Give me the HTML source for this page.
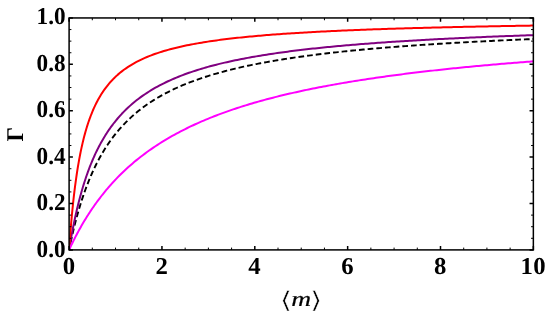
<!DOCTYPE html>
<html><head><meta charset="utf-8"><title>Gamma vs m</title>
<style>
html,body{margin:0;padding:0;background:#fff;}
svg{display:block;}
text{text-rendering:geometricPrecision;font-family:"Liberation Serif","DejaVu Serif",serif;fill:#000;}
.tk{font-weight:bold;font-size:24.3px;letter-spacing:0.5px;}
</style></head><body>
<svg width="550" height="315" viewBox="0 0 550 315">
<rect x="0" y="0" width="550" height="315" fill="#fff"/>
<clipPath id="c"><rect x="69.1" y="17.95" width="464.25" height="231.95000000000002"/></clipPath>
<g clip-path="url(#c)" fill="none" stroke-width="2" stroke-linejoin="round">
<path d="M69.10,249.90 L69.69,247.00 L70.28,244.17 L70.86,241.41 L71.45,238.72 L72.04,236.09 L72.63,233.53 L73.21,231.02 L73.80,228.57 L74.39,226.18 L74.98,223.84 L75.56,221.55 L76.15,219.31 L76.74,217.12 L77.33,214.98 L77.91,212.89 L78.50,210.83 L79.09,208.83 L79.68,206.86 L80.27,204.93 L80.85,203.04 L81.44,201.19 L82.03,199.38 L82.62,197.60 L83.20,195.85 L83.79,194.14 L84.38,192.46 L84.97,190.82 L85.55,189.20 L86.14,187.62 L86.73,186.06 L87.32,184.53 L87.91,183.03 L88.49,181.56 L89.08,180.11 L89.67,178.69 L90.26,177.29 L90.84,175.92 L91.43,174.57 L92.02,173.24 L92.61,171.93 L93.19,170.65 L93.78,169.39 L94.37,168.15 L94.96,166.93 L95.54,165.72 L96.13,164.54 L96.72,163.38 L97.31,162.23 L97.90,161.11 L98.48,160.00 L99.07,158.90 L99.66,157.83 L100.25,156.77 L100.83,155.72 L101.42,154.70 L102.01,153.68 L102.60,152.69 L103.18,151.70 L103.77,150.73 L104.36,149.78 L104.95,148.84 L105.53,147.91 L106.12,146.99 L106.71,146.09 L107.30,145.20 L107.89,144.32 L108.47,143.46 L109.06,142.60 L109.65,141.76 L110.24,140.93 L110.82,140.11 L111.41,139.30 L112.00,138.50 L112.59,137.72 L113.17,136.94 L113.76,136.17 L114.35,135.41 L114.94,134.66 L115.52,133.93 L117.62,131.36 L119.72,128.91 L121.82,126.56 L123.92,124.30 L126.02,122.14 L128.12,120.07 L130.22,118.08 L132.32,116.16 L134.42,114.31 L136.52,112.54 L138.62,110.82 L140.72,109.17 L142.82,107.58 L144.92,106.04 L147.02,104.55 L149.12,103.11 L151.22,101.72 L153.32,100.38 L155.42,99.07 L157.52,97.81 L159.62,96.58 L161.72,95.40 L163.82,94.24 L165.92,93.13 L168.02,92.04 L170.12,90.98 L172.21,89.96 L174.31,88.96 L176.41,87.99 L178.51,87.05 L180.61,86.13 L182.71,85.24 L184.81,84.36 L186.91,83.52 L189.01,82.69 L191.11,81.88 L193.21,81.09 L195.31,80.33 L197.41,79.58 L199.51,78.84 L201.61,78.13 L203.71,77.43 L205.81,76.75 L207.91,76.08 L210.01,75.43 L212.11,74.79 L214.21,74.17 L216.31,73.56 L218.41,72.97 L220.51,72.38 L222.61,71.81 L224.71,71.25 L226.81,70.70 L228.90,70.16 L231.00,69.64 L233.10,69.12 L235.20,68.62 L237.30,68.12 L239.40,67.64 L241.50,67.16 L243.60,66.69 L245.70,66.23 L247.80,65.78 L249.90,65.34 L252.00,64.91 L254.10,64.48 L256.20,64.06 L258.30,63.65 L260.40,63.25 L262.50,62.85 L264.60,62.46 L266.70,62.08 L268.80,61.70 L270.90,61.33 L273.00,60.97 L275.10,60.61 L277.20,60.26 L279.30,59.91 L281.40,59.57 L283.49,59.24 L285.59,58.91 L287.69,58.58 L289.79,58.26 L291.89,57.95 L293.99,57.64 L296.09,57.33 L298.19,57.03 L300.29,56.74 L302.39,56.45 L304.49,56.16 L306.59,55.88 L308.69,55.60 L310.79,55.32 L312.89,55.05 L314.99,54.79 L317.09,54.53 L319.19,54.27 L321.29,54.01 L323.39,53.76 L325.49,53.51 L327.59,53.27 L329.69,53.02 L331.79,52.79 L333.89,52.55 L335.99,52.32 L338.09,52.09 L340.18,51.86 L342.28,51.64 L344.38,51.42 L346.48,51.21 L348.58,50.99 L350.68,50.78 L352.78,50.57 L354.88,50.36 L356.98,50.16 L359.08,49.96 L361.18,49.76 L363.28,49.57 L365.38,49.37 L367.48,49.18 L369.58,48.99 L371.68,48.80 L373.78,48.62 L375.88,48.44 L377.98,48.26 L380.08,48.08 L382.18,47.90 L384.28,47.73 L386.38,47.56 L388.48,47.39 L390.58,47.22 L392.68,47.05 L394.77,46.89 L396.87,46.73 L398.97,46.57 L401.07,46.41 L403.17,46.25 L405.27,46.10 L407.37,45.94 L409.47,45.79 L411.57,45.64 L413.67,45.49 L415.77,45.34 L417.87,45.20 L419.97,45.05 L422.07,44.91 L424.17,44.77 L426.27,44.63 L428.37,44.49 L430.47,44.36 L432.57,44.22 L434.67,44.09 L436.77,43.95 L438.87,43.82 L440.97,43.69 L443.07,43.56 L445.17,43.44 L447.27,43.31 L449.37,43.19 L451.46,43.06 L453.56,42.94 L455.66,42.82 L457.76,42.70 L459.86,42.58 L461.96,42.46 L464.06,42.35 L466.16,42.23 L468.26,42.12 L470.36,42.00 L472.46,41.89 L474.56,41.78 L476.66,41.67 L478.76,41.56 L480.86,41.45 L482.96,41.34 L485.06,41.24 L487.16,41.13 L489.26,41.03 L491.36,40.93 L493.46,40.82 L495.56,40.72 L497.66,40.62 L499.76,40.52 L501.86,40.42 L503.96,40.32 L506.05,40.23 L508.15,40.13 L510.25,40.04 L512.35,39.94 L514.45,39.85 L516.55,39.75 L518.65,39.66 L520.75,39.57 L522.85,39.48 L524.95,39.39 L527.05,39.30 L529.15,39.21 L531.25,39.12 L533.35,39.04" stroke="#000" stroke-width="1.9" stroke-dasharray="5.7,3.0" stroke-dashoffset="1.14"/>
<path d="M69.10,249.90 L69.69,246.29 L70.28,242.78 L70.86,239.39 L71.45,236.09 L72.04,232.89 L72.63,229.79 L73.21,226.77 L73.80,223.84 L74.39,220.99 L74.98,218.21 L75.56,215.51 L76.15,212.89 L76.74,210.33 L77.33,207.84 L77.91,205.41 L78.50,203.04 L79.09,200.73 L79.68,198.48 L80.27,196.29 L80.85,194.14 L81.44,192.05 L82.03,190.01 L82.62,188.01 L83.20,186.06 L83.79,184.15 L84.38,182.29 L84.97,180.47 L85.55,178.69 L86.14,176.94 L86.73,175.24 L87.32,173.57 L87.91,171.93 L88.49,170.33 L89.08,168.77 L89.67,167.23 L90.26,165.72 L90.84,164.25 L91.43,162.80 L92.02,161.39 L92.61,160.00 L93.19,158.63 L93.78,157.30 L94.37,155.98 L94.96,154.70 L95.54,153.43 L96.13,152.19 L96.72,150.97 L97.31,149.78 L97.90,148.60 L98.48,147.45 L99.07,146.31 L99.66,145.20 L100.25,144.11 L100.83,143.03 L101.42,141.97 L102.01,140.93 L102.60,139.91 L103.18,138.90 L103.77,137.91 L104.36,136.94 L104.95,135.98 L105.53,135.04 L106.12,134.11 L106.71,133.20 L107.30,132.30 L107.89,131.41 L108.47,130.54 L109.06,129.68 L109.65,128.84 L110.24,128.00 L110.82,127.18 L111.41,126.38 L112.00,125.58 L112.59,124.80 L113.17,124.02 L113.76,123.26 L114.35,122.51 L114.94,121.77 L115.52,121.04 L117.62,118.51 L119.72,116.11 L121.82,113.81 L123.92,111.62 L126.02,109.53 L128.12,107.53 L130.22,105.62 L132.32,103.79 L134.42,102.03 L136.52,100.34 L138.62,98.72 L140.72,97.16 L142.82,95.66 L144.92,94.21 L147.02,92.82 L149.12,91.48 L151.22,90.18 L153.32,88.94 L155.42,87.73 L157.52,86.56 L159.62,85.43 L161.72,84.34 L163.82,83.28 L165.92,82.26 L168.02,81.27 L170.12,80.30 L172.21,79.37 L174.31,78.47 L176.41,77.59 L178.51,76.73 L180.61,75.90 L182.71,75.09 L184.81,74.31 L186.91,73.55 L189.01,72.80 L191.11,72.08 L193.21,71.37 L195.31,70.69 L197.41,70.02 L199.51,69.37 L201.61,68.73 L203.71,68.11 L205.81,67.50 L207.91,66.91 L210.01,66.33 L212.11,65.77 L214.21,65.22 L216.31,64.68 L218.41,64.15 L220.51,63.64 L222.61,63.14 L224.71,62.64 L226.81,62.16 L228.90,61.69 L231.00,61.23 L233.10,60.78 L235.20,60.34 L237.30,59.90 L239.40,59.48 L241.50,59.06 L243.60,58.65 L245.70,58.25 L247.80,57.86 L249.90,57.48 L252.00,57.10 L254.10,56.73 L256.20,56.37 L258.30,56.01 L260.40,55.66 L262.50,55.32 L264.60,54.98 L266.70,54.65 L268.80,54.32 L270.90,54.00 L273.00,53.69 L275.10,53.38 L277.20,53.08 L279.30,52.78 L281.40,52.49 L283.49,52.20 L285.59,51.91 L287.69,51.64 L289.79,51.36 L291.89,51.09 L293.99,50.83 L296.09,50.56 L298.19,50.31 L300.29,50.05 L302.39,49.81 L304.49,49.56 L306.59,49.32 L308.69,49.08 L310.79,48.85 L312.89,48.61 L314.99,48.39 L317.09,48.16 L319.19,47.94 L321.29,47.72 L323.39,47.51 L325.49,47.30 L327.59,47.09 L329.69,46.88 L331.79,46.68 L333.89,46.48 L335.99,46.29 L338.09,46.09 L340.18,45.90 L342.28,45.71 L344.38,45.52 L346.48,45.34 L348.58,45.16 L350.68,44.98 L352.78,44.80 L354.88,44.63 L356.98,44.45 L359.08,44.28 L361.18,44.12 L363.28,43.95 L365.38,43.79 L367.48,43.63 L369.58,43.47 L371.68,43.31 L373.78,43.15 L375.88,43.00 L377.98,42.85 L380.08,42.70 L382.18,42.55 L384.28,42.40 L386.38,42.26 L388.48,42.11 L390.58,41.97 L392.68,41.83 L394.77,41.69 L396.87,41.56 L398.97,41.42 L401.07,41.29 L403.17,41.16 L405.27,41.03 L407.37,40.90 L409.47,40.77 L411.57,40.64 L413.67,40.52 L415.77,40.39 L417.87,40.27 L419.97,40.15 L422.07,40.03 L424.17,39.91 L426.27,39.80 L428.37,39.68 L430.47,39.57 L432.57,39.45 L434.67,39.34 L436.77,39.23 L438.87,39.12 L440.97,39.01 L443.07,38.90 L445.17,38.80 L447.27,38.69 L449.37,38.59 L451.46,38.49 L453.56,38.38 L455.66,38.28 L457.76,38.18 L459.86,38.08 L461.96,37.98 L464.06,37.89 L466.16,37.79 L468.26,37.69 L470.36,37.60 L472.46,37.51 L474.56,37.41 L476.66,37.32 L478.76,37.23 L480.86,37.14 L482.96,37.05 L485.06,36.96 L487.16,36.87 L489.26,36.79 L491.36,36.70 L493.46,36.62 L495.56,36.53 L497.66,36.45 L499.76,36.37 L501.86,36.28 L503.96,36.20 L506.05,36.12 L508.15,36.04 L510.25,35.96 L512.35,35.88 L514.45,35.80 L516.55,35.73 L518.65,35.65 L520.75,35.57 L522.85,35.50 L524.95,35.42 L527.05,35.35 L529.15,35.28 L531.25,35.20 L533.35,35.13" stroke="#800080"/>
<path d="M69.10,249.90 L69.69,241.57 L70.28,233.83 L70.86,226.60 L71.45,219.84 L72.04,213.50 L72.63,207.55 L73.21,201.95 L73.80,196.67 L74.39,191.69 L74.98,186.97 L75.56,182.51 L76.15,178.27 L76.74,174.25 L77.33,170.43 L77.91,166.78 L78.50,163.31 L79.09,160.00 L79.68,156.83 L80.27,153.80 L80.85,150.90 L81.44,148.13 L82.03,145.46 L82.62,142.90 L83.20,140.45 L83.79,138.08 L84.38,135.81 L84.97,133.62 L85.55,131.52 L86.14,129.48 L86.73,127.52 L87.32,125.63 L87.91,123.80 L88.49,122.03 L89.08,120.32 L89.67,118.66 L90.26,117.06 L90.84,115.51 L91.43,114.01 L92.02,112.55 L92.61,111.13 L93.19,109.76 L93.78,108.43 L94.37,107.13 L94.96,105.87 L95.54,104.65 L96.13,103.46 L96.72,102.30 L97.31,101.17 L97.90,100.08 L98.48,99.01 L99.07,97.97 L99.66,96.95 L100.25,95.96 L100.83,95.00 L101.42,94.06 L102.01,93.14 L102.60,92.24 L103.18,91.37 L103.77,90.51 L104.36,89.68 L104.95,88.86 L105.53,88.06 L106.12,87.28 L106.71,86.52 L107.30,85.77 L107.89,85.04 L108.47,84.33 L109.06,83.63 L109.65,82.94 L110.24,82.27 L110.82,81.61 L111.41,80.97 L112.00,80.34 L112.59,79.72 L113.17,79.11 L113.76,78.52 L114.35,77.94 L114.94,77.36 L115.52,76.80 L117.62,74.88 L119.72,73.08 L121.82,71.39 L123.92,69.80 L126.02,68.31 L128.12,66.89 L130.22,65.56 L132.32,64.29 L134.42,63.09 L136.52,61.95 L138.62,60.87 L140.72,59.84 L142.82,58.86 L144.92,57.92 L147.02,57.02 L149.12,56.17 L151.22,55.35 L153.32,54.56 L155.42,53.81 L157.52,53.09 L159.62,52.39 L161.72,51.72 L163.82,51.08 L165.92,50.47 L168.02,49.87 L170.12,49.30 L172.21,48.74 L174.31,48.21 L176.41,47.69 L178.51,47.19 L180.61,46.71 L182.71,46.24 L184.81,45.79 L186.91,45.35 L189.01,44.93 L191.11,44.52 L193.21,44.12 L195.31,43.73 L197.41,43.36 L199.51,42.99 L201.61,42.64 L203.71,42.29 L205.81,41.96 L207.91,41.63 L210.01,41.32 L212.11,41.01 L214.21,40.71 L216.31,40.41 L218.41,40.13 L220.51,39.85 L222.61,39.58 L224.71,39.31 L226.81,39.05 L228.90,38.80 L231.00,38.55 L233.10,38.31 L235.20,38.08 L237.30,37.85 L239.40,37.62 L241.50,37.41 L243.60,37.19 L245.70,36.98 L247.80,36.78 L249.90,36.57 L252.00,36.38 L254.10,36.18 L256.20,36.00 L258.30,35.81 L260.40,35.63 L262.50,35.45 L264.60,35.28 L266.70,35.11 L268.80,34.94 L270.90,34.78 L273.00,34.62 L275.10,34.46 L277.20,34.30 L279.30,34.15 L281.40,34.00 L283.49,33.86 L285.59,33.71 L287.69,33.57 L289.79,33.43 L291.89,33.30 L293.99,33.16 L296.09,33.03 L298.19,32.90 L300.29,32.77 L302.39,32.65 L304.49,32.53 L306.59,32.41 L308.69,32.29 L310.79,32.17 L312.89,32.05 L314.99,31.94 L317.09,31.83 L319.19,31.72 L321.29,31.61 L323.39,31.51 L325.49,31.40 L327.59,31.30 L329.69,31.20 L331.79,31.10 L333.89,31.00 L335.99,30.90 L338.09,30.81 L340.18,30.71 L342.28,30.62 L344.38,30.53 L346.48,30.44 L348.58,30.35 L350.68,30.26 L352.78,30.18 L354.88,30.09 L356.98,30.01 L359.08,29.92 L361.18,29.84 L363.28,29.76 L365.38,29.68 L367.48,29.60 L369.58,29.53 L371.68,29.45 L373.78,29.37 L375.88,29.30 L377.98,29.23 L380.08,29.15 L382.18,29.08 L384.28,29.01 L386.38,28.94 L388.48,28.87 L390.58,28.81 L392.68,28.74 L394.77,28.67 L396.87,28.61 L398.97,28.54 L401.07,28.48 L403.17,28.41 L405.27,28.35 L407.37,28.29 L409.47,28.23 L411.57,28.17 L413.67,28.11 L415.77,28.05 L417.87,27.99 L419.97,27.94 L422.07,27.88 L424.17,27.82 L426.27,27.77 L428.37,27.71 L430.47,27.66 L432.57,27.60 L434.67,27.55 L436.77,27.50 L438.87,27.45 L440.97,27.39 L443.07,27.34 L445.17,27.29 L447.27,27.24 L449.37,27.19 L451.46,27.15 L453.56,27.10 L455.66,27.05 L457.76,27.00 L459.86,26.96 L461.96,26.91 L464.06,26.86 L466.16,26.82 L468.26,26.77 L470.36,26.73 L472.46,26.68 L474.56,26.64 L476.66,26.60 L478.76,26.56 L480.86,26.51 L482.96,26.47 L485.06,26.43 L487.16,26.39 L489.26,26.35 L491.36,26.31 L493.46,26.27 L495.56,26.23 L497.66,26.19 L499.76,26.15 L501.86,26.11 L503.96,26.07 L506.05,26.04 L508.15,26.00 L510.25,25.96 L512.35,25.93 L514.45,25.89 L516.55,25.85 L518.65,25.82 L520.75,25.78 L522.85,25.75 L524.95,25.71 L527.05,25.68 L529.15,25.64 L531.25,25.61 L533.35,25.58" stroke="#ff0000"/>
<path d="M69.10,249.90 L69.69,248.63 L70.28,247.37 L70.86,246.13 L71.45,244.90 L72.04,243.69 L72.63,242.49 L73.21,241.30 L73.80,240.12 L74.39,238.95 L74.98,237.80 L75.56,236.66 L76.15,235.53 L76.74,234.41 L77.33,233.31 L77.91,232.21 L78.50,231.13 L79.09,230.06 L79.68,228.99 L80.27,227.94 L80.85,226.90 L81.44,225.87 L82.03,224.85 L82.62,223.84 L83.20,222.84 L83.79,221.85 L84.38,220.86 L84.97,219.89 L85.55,218.93 L86.14,217.98 L86.73,217.03 L87.32,216.09 L87.91,215.17 L88.49,214.25 L89.08,213.34 L89.67,212.44 L90.26,211.54 L90.84,210.66 L91.43,209.78 L92.02,208.91 L92.61,208.05 L93.19,207.20 L93.78,206.35 L94.37,205.51 L94.96,204.68 L95.54,203.86 L96.13,203.04 L96.72,202.23 L97.31,201.43 L97.90,200.63 L98.48,199.85 L99.07,199.06 L99.66,198.29 L100.25,197.52 L100.83,196.76 L101.42,196.00 L102.01,195.25 L102.60,194.51 L103.18,193.78 L103.77,193.04 L104.36,192.32 L104.95,191.60 L105.53,190.89 L106.12,190.18 L106.71,189.48 L107.30,188.79 L107.89,188.10 L108.47,187.41 L109.06,186.73 L109.65,186.06 L110.24,185.39 L110.82,184.73 L111.41,184.07 L112.00,183.42 L112.59,182.77 L113.17,182.13 L113.76,181.49 L114.35,180.86 L114.94,180.23 L115.52,179.61 L117.62,177.43 L119.72,175.30 L121.82,173.23 L123.92,171.21 L126.02,169.24 L128.12,167.33 L130.22,165.46 L132.32,163.64 L134.42,161.86 L136.52,160.13 L138.62,158.43 L140.72,156.78 L142.82,155.17 L144.92,153.59 L147.02,152.05 L149.12,150.54 L151.22,149.06 L153.32,147.62 L155.42,146.21 L157.52,144.83 L159.62,143.48 L161.72,142.16 L163.82,140.87 L165.92,139.60 L168.02,138.36 L170.12,137.14 L172.21,135.95 L174.31,134.78 L176.41,133.63 L178.51,132.51 L180.61,131.41 L182.71,130.33 L184.81,129.27 L186.91,128.23 L189.01,127.21 L191.11,126.20 L193.21,125.22 L195.31,124.25 L197.41,123.30 L199.51,122.37 L201.61,121.45 L203.71,120.55 L205.81,119.67 L207.91,118.80 L210.01,117.94 L212.11,117.10 L214.21,116.28 L216.31,115.46 L218.41,114.66 L220.51,113.88 L222.61,113.10 L224.71,112.34 L226.81,111.59 L228.90,110.86 L231.00,110.13 L233.10,109.42 L235.20,108.71 L237.30,108.02 L239.40,107.34 L241.50,106.66 L243.60,106.00 L245.70,105.35 L247.80,104.71 L249.90,104.07 L252.00,103.45 L254.10,102.83 L256.20,102.23 L258.30,101.63 L260.40,101.04 L262.50,100.46 L264.60,99.89 L266.70,99.32 L268.80,98.76 L270.90,98.21 L273.00,97.67 L275.10,97.14 L277.20,96.61 L279.30,96.09 L281.40,95.57 L283.49,95.06 L285.59,94.56 L287.69,94.07 L289.79,93.58 L291.89,93.10 L293.99,92.62 L296.09,92.15 L298.19,91.69 L300.29,91.23 L302.39,90.78 L304.49,90.33 L306.59,89.89 L308.69,89.46 L310.79,89.02 L312.89,88.60 L314.99,88.18 L317.09,87.76 L319.19,87.35 L321.29,86.95 L323.39,86.54 L325.49,86.15 L327.59,85.76 L329.69,85.37 L331.79,84.99 L333.89,84.61 L335.99,84.23 L338.09,83.86 L340.18,83.50 L342.28,83.13 L344.38,82.77 L346.48,82.42 L348.58,82.07 L350.68,81.72 L352.78,81.38 L354.88,81.04 L356.98,80.71 L359.08,80.37 L361.18,80.04 L363.28,79.72 L365.38,79.40 L367.48,79.08 L369.58,78.76 L371.68,78.45 L373.78,78.14 L375.88,77.84 L377.98,77.54 L380.08,77.24 L382.18,76.94 L384.28,76.65 L386.38,76.36 L388.48,76.07 L390.58,75.78 L392.68,75.50 L394.77,75.22 L396.87,74.94 L398.97,74.67 L401.07,74.40 L403.17,74.13 L405.27,73.86 L407.37,73.60 L409.47,73.34 L411.57,73.08 L413.67,72.82 L415.77,72.57 L417.87,72.32 L419.97,72.07 L422.07,71.82 L424.17,71.58 L426.27,71.33 L428.37,71.09 L430.47,70.85 L432.57,70.62 L434.67,70.38 L436.77,70.15 L438.87,69.92 L440.97,69.69 L443.07,69.47 L445.17,69.24 L447.27,69.02 L449.37,68.80 L451.46,68.58 L453.56,68.37 L455.66,68.15 L457.76,67.94 L459.86,67.73 L461.96,67.52 L464.06,67.31 L466.16,67.11 L468.26,66.90 L470.36,66.70 L472.46,66.50 L474.56,66.30 L476.66,66.10 L478.76,65.91 L480.86,65.71 L482.96,65.52 L485.06,65.33 L487.16,65.14 L489.26,64.95 L491.36,64.77 L493.46,64.58 L495.56,64.40 L497.66,64.21 L499.76,64.03 L501.86,63.85 L503.96,63.68 L506.05,63.50 L508.15,63.32 L510.25,63.15 L512.35,62.98 L514.45,62.81 L516.55,62.64 L518.65,62.47 L520.75,62.30 L522.85,62.14 L524.95,61.97 L527.05,61.81 L529.15,61.64 L531.25,61.48 L533.35,61.32" stroke="#ff00ff"/>
</g>
<rect x="69.1" y="17.95" width="464.25" height="231.95000000000002" fill="none" stroke="#000" stroke-width="1.5"/>
<path d="M69.10,249.9 v-3.8 M69.10,17.95 v3.8 M161.95,249.9 v-3.8 M161.95,17.95 v3.8 M254.80,249.9 v-3.8 M254.80,17.95 v3.8 M347.65,249.9 v-3.8 M347.65,17.95 v3.8 M440.50,249.9 v-3.8 M440.50,17.95 v3.8 M533.35,249.9 v-3.8 M533.35,17.95 v3.8 M69.1,249.90 h3.8 M533.35,249.90 h-3.8 M69.1,203.51 h3.8 M533.35,203.51 h-3.8 M69.1,157.12 h3.8 M533.35,157.12 h-3.8 M69.1,110.73 h3.8 M533.35,110.73 h-3.8 M69.1,64.34 h3.8 M533.35,64.34 h-3.8 M69.1,17.95 h3.8 M533.35,17.95 h-3.8" stroke="#000" stroke-width="1.5" fill="none"/>
<path d="M92.31,249.9 v-2.3 M92.31,17.95 v2.3 M115.52,249.9 v-2.3 M115.52,17.95 v2.3 M138.74,249.9 v-2.3 M138.74,17.95 v2.3 M185.16,249.9 v-2.3 M185.16,17.95 v2.3 M208.38,249.9 v-2.3 M208.38,17.95 v2.3 M231.59,249.9 v-2.3 M231.59,17.95 v2.3 M278.01,249.9 v-2.3 M278.01,17.95 v2.3 M301.23,249.9 v-2.3 M301.23,17.95 v2.3 M324.44,249.9 v-2.3 M324.44,17.95 v2.3 M370.86,249.9 v-2.3 M370.86,17.95 v2.3 M394.08,249.9 v-2.3 M394.08,17.95 v2.3 M417.29,249.9 v-2.3 M417.29,17.95 v2.3 M463.71,249.9 v-2.3 M463.71,17.95 v2.3 M486.92,249.9 v-2.3 M486.92,17.95 v2.3 M510.14,249.9 v-2.3 M510.14,17.95 v2.3 M69.1,238.30 h2.3 M533.35,238.30 h-2.3 M69.1,226.71 h2.3 M533.35,226.71 h-2.3 M69.1,215.11 h2.3 M533.35,215.11 h-2.3 M69.1,191.91 h2.3 M533.35,191.91 h-2.3 M69.1,180.31 h2.3 M533.35,180.31 h-2.3 M69.1,168.72 h2.3 M533.35,168.72 h-2.3 M69.1,145.52 h2.3 M533.35,145.52 h-2.3 M69.1,133.93 h2.3 M533.35,133.93 h-2.3 M69.1,122.33 h2.3 M533.35,122.33 h-2.3 M69.1,99.13 h2.3 M533.35,99.13 h-2.3 M69.1,87.53 h2.3 M533.35,87.53 h-2.3 M69.1,75.94 h2.3 M533.35,75.94 h-2.3 M69.1,52.74 h2.3 M533.35,52.74 h-2.3 M69.1,41.14 h2.3 M533.35,41.14 h-2.3 M69.1,29.55 h2.3 M533.35,29.55 h-2.3" stroke="#000" stroke-width="1.0" fill="none"/>
<text class="tk" transform="translate(69.10,273.65) scale(1.02,1)" text-anchor="middle">0</text>
<text class="tk" transform="translate(161.95,273.65) scale(1.02,1)" text-anchor="middle">2</text>
<text class="tk" transform="translate(254.80,273.65) scale(1.02,1)" text-anchor="middle">4</text>
<text class="tk" transform="translate(347.65,273.65) scale(1.02,1)" text-anchor="middle">6</text>
<text class="tk" transform="translate(440.50,273.65) scale(1.02,1)" text-anchor="middle">8</text>
<text class="tk" transform="translate(533.35,273.65) scale(1.02,1)" text-anchor="middle">10</text>
<text class="tk" style="letter-spacing:0" transform="translate(65.6,257.10) scale(0.955,1)" text-anchor="end">0.0</text>
<text class="tk" style="letter-spacing:0" transform="translate(65.6,210.31) scale(0.955,1)" text-anchor="end">0.2</text>
<text class="tk" style="letter-spacing:0" transform="translate(65.6,164.02) scale(0.955,1)" text-anchor="end">0.4</text>
<text class="tk" style="letter-spacing:0" transform="translate(65.6,117.43) scale(0.955,1)" text-anchor="end">0.6</text>
<text class="tk" style="letter-spacing:0" transform="translate(65.6,70.74) scale(0.955,1)" text-anchor="end">0.8</text>
<text class="tk" style="letter-spacing:0" transform="translate(65.6,24.35) scale(0.955,1)" text-anchor="end">1.0</text>
<text transform="translate(286.0,307.7) scale(1.38,1)" text-anchor="middle" font-size="23px" stroke="#fff" stroke-width="0.5" style="font-family:'DejaVu Sans',sans-serif">⟨</text>
<text transform="translate(301.3,305.7) scale(1.28,1)" text-anchor="middle" font-size="21.5px" font-style="italic" stroke="#000" stroke-width="0.2">m</text>
<text transform="translate(316.2,307.7) scale(1.38,1)" text-anchor="middle" font-size="23px" stroke="#fff" stroke-width="0.5" style="font-family:'DejaVu Sans',sans-serif">⟩</text>
<text transform="translate(23.1,134.3) rotate(-90) scale(0.94,1)" text-anchor="middle" font-size="24px" font-weight="bold">Γ</text>
</svg></body></html>
